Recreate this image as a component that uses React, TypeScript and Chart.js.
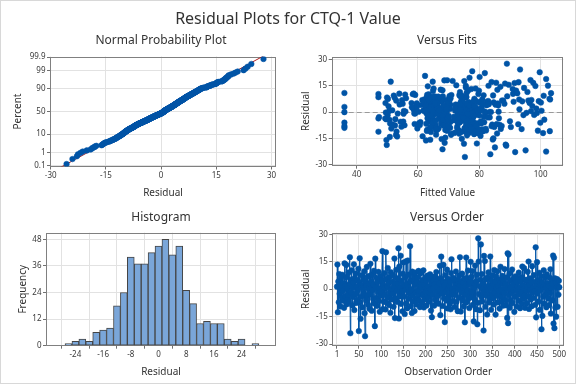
import React, { useEffect, useRef } from "react";
import { Chart, registerables } from "chart.js";
Chart.register(...registerables);

// ---------------- DATA ----------------
// residuals in observation order (1..500)
const residuals: number[] = [
  1.4, 13.5, -12.6, 4.2, -7.1, 8.3, -2.5, 0.6, -9.4, 5.8, 2.1, -4.6, 7.9, -0.8, -6.3, 3.3, -10.2, 14.1, 1.7, -3.9, 6.5, 13.3, -8.2, 0.3, -5.4,
  -3.2, 9.1, -6.7, 2.8, 17.5, -24.1, 5.2, -1.9, 10.4, -8.8, 0.9, -4.3, 3.7, 13.6, -11.4, 6.1, -2.7, 8.6, -7.5, 1.3, -5.9, 4.8, -0.4, 11.2, -22.9,
  3.6, 16.9, -7.2, -16.2, 2.4, -4.1, 7.6, -9.9, 0.7, 5.3, -2.2, 9.8, -13.1, -25.7, 4.5, -6.0, 1.9, 12.2, -3.4, 6.9, -8.5, 0.2, 3.1, -10.7, 7.3,
  13.9, -2.9, 4.4, -11.8, 8.1, -0.6, -5.2, 2.6, 10.1, -7.8, -20.2, 16.7, 1.1, -4.8, 6.3, -9.1, 3.9, -1.5, 9.5, -6.4, 0.4, -12.3, 5.6, -3.6, 7.2,
  -1.2, 4.9, 20.8, -10.9, 2.2, -6.8, 8.9, -3.1, 0.8, -11.1, 20.2, 5.5, -7.4, 1.6, 11.6, -4.4, 3.4, -8.7, 6.7, -2.0, -12.9, 9.3, 0.1, -5.6, 4.1,
  -2.6, 7.7, -9.6, 1.4, 16.8, -15.8, 3.2, -5.1, 10.6, -0.9, 6.0, -7.0, 2.9, 22.4, -16.0, 12.4, -3.8, 0.5, 18.3, -8.0, 4.6, -1.1, -12.1, 8.4, 14.6,
  -4.0, 2.0, -13.6, 6.6, -0.3, 15.2, -7.7, 3.0, -10.4, 15.7, 1.0, -5.3, 8.0, -2.3, 23.5, 4.3, -9.3, 0.0, -13.0, 9.6, -3.5, 5.1, -6.6, 7.0, -11.9,
  2.7, 9.0, -1.8, -8.4, 4.0, -4.9, 6.4, -0.7, 10.0, -6.1, 1.8, -9.8, 3.5, 8.7, -2.8, 0.9, -7.3, 5.0, -3.3, 10.3, -10.0, 2.3, -5.5, 6.2, -1.4,
  4.7, -8.9, 0.6, 7.4, -4.2, 1.5, -6.9, 5.9, -2.1, 8.2, -0.2, -11.7, 3.8, -15.3, 6.8, -3.0, 0.3, 4.5, -9.0, 2.5, -5.7, 7.1, -1.0, 9.4, -7.6,
  1.2, -3.7, 5.4, -7.9, 3.1, -0.5, 12.8, -14.2, 6.0, 17.8, -2.4, 0.7, -9.2, 4.2, 13.3, -5.0, 2.0, -18.0, 7.8, -1.6, 3.6, -6.2, 10.7, -10.5, 0.4,
  5.7, -4.5, 1.9, -8.1, 3.9, -11.0, 8.8, 16.4, -2.9, 0.2, -6.5, 6.3, -1.3, 4.9, -9.7, 2.4, -3.2, 9.7, -7.0, 0.8, 5.1, -12.0, 3.0, -0.1, 7.5,
  -4.7, 17.5, 2.1, -12.2, 4.4, -1.7, 8.5, -6.3, 0.6, 3.3, -9.4, 5.8, -18.1, 1.4, -3.0, 17.3, -7.1, 6.1, -0.8, 10.2, -5.2, 2.8, -10.3, 4.0, -2.2,
  15.0, -4.4, 6.8, -1.2, 9.9, -8.6, 3.7, -17.6, 0.9, -5.8, 12.9, 2.5, -10.9, 4.3, 7.9, -19.2, -7.4, 27.8, 15.1, -2.6, 1.7, -11.5, 5.2, 24.5, -3.9,
  8.3, -6.7, 0.1, 3.2, -22.6, 18.2, -1.4, 15.4, -9.6, 5.5, -3.4, 1.3, -13.8, 6.4, -0.4, 9.2, -7.3, 2.2, -4.6, 17.9, 0.5, -11.2, 4.7, -2.5, 7.6,
  -5.0, 2.6, -8.3, 10.5, -1.9, 4.1, -13.9, 6.9, 0.7, -3.6, 9.8, -7.2, 1.6, -0.9, 5.3, -10.6, 3.4, 12.3, -4.3, 0.0, -6.9, 7.3, 2.9, -9.0, 4.6,
  -1.8, 11.0, -5.9, 3.0, -8.8, 0.3, 6.5, -15.7, 19.7, -18.6, 19.0, -3.1, 8.6, -10.1, 1.1, -6.0, 4.8, -2.0, 10.8, -7.6, 2.7, -0.6, 5.9, -12.4, 3.5,
  -4.1, 7.0, -0.2, 3.8, -9.5, 1.5, 5.6, -6.4, 9.1, -2.7, 0.9, -10.4, 4.4, -1.5, 6.7, -8.0, 12.4, 2.0, -5.3, 0.2, 11.5, -3.5, -10.2, 4.9, -0.7,
  5.2, -7.7, 1.0, 9.5, -3.8, 15.1, -10.8, 2.4, -0.3, 6.0, -5.6, 3.6, -9.3, 12.6, -1.9, 0.6, -4.8, 7.7, -1.0, 3.9, -8.5, 22.9, -15.4, 1.8, 14.8,
  -2.3, 5.0, -6.8, 0.4, 9.0, -11.3, 3.1, -0.5, 7.2, -21.9, 4.0, -14.6, 1.2, -4.0, 10.4, -7.9, 2.1, 6.6, -3.3, 0.8, -9.9, 8.1, -1.7, 3.4, -5.1,
  1.9, -8.7, 6.4, -2.1, 10.9, -13.3, 0.6, 4.3, -6.1, 2.8, 18.4, -18.8, 17.2, -21.3, 6.0, -10.0, 3.7, -15.0, 0.9, 5.5, -9.6, 1.5, -3.0, 4.6, 1.1,
];

// fitted values, same order as residuals
const fitted: number[] = [
  72.4, 65.1, 78.3, 70.6, 84.2, 63.8, 74.9, 50.6, 51.3, 76.5, 98.6, 71.8, 64.5, 53.4, 80.7, 59.4, 68.9, 75.6, 93.1, 70.1, 62.9, 77.4, 72.8, 86.3, 55.2,
  74.3, 68.1, 79.5, 63.2, 51.1, 83.6, 49.4, 76.9, 47.1, 66.0, 72.1, 101.2, 69.7, 78.8, 64.2, 74.0, 81.5, 47.1, 55.6, 58.7, 73.6, 88.2, 67.3, 75.9, 91.7,
  69.8, 85.5, 77.1, 62.6, 73.9, 49.6, 50.2, 79.9, 65.6, 96.4, 74.7, 70.9, 52.8, 75.3, 83.1, 36.0, 68.4, 64.9, 76.3, 54.8, 90.3, 60.2, 78.1, 69.5, 103.1,
  94.6, 73.1, 65.3, 76.8, 70.2, 81.9, 63.4, 74.4, 55.8, 78.6, 85.1, 91.5, 51.6, 67.8, 99.4, 75.2, 64.1, 72.9, 52.1, 79.2, 68.5, 73.4, 84.7, 49.3, 62.1,
  76.1, 69.9, 62.3, 81.2, 73.5, 58.9, 66.6, 74.8, 100.3, 53.0, 80.1, 64.7, 77.6, 68.2, 95.7, 50.7, 50.4, 79.0, 87.4, 75.4, 65.9, 70.3, 83.8, 73.0, 61.0,
  71.7, 78.4, 66.3, 74.1, 97.6, 64.0, 76.0, 69.0, 53.9, 55.3, 82.6, 75.7, 63.6, 81.8, 49.7, 92.0, 77.3, 68.0, 69.5, 36.0, 73.8, 65.4, 79.6, 49.9, 86.9,
  74.6, 67.0, 80.4, 52.9, 64.4, 102.4, 76.7, 69.6, 73.3, 89.6, 61.8, 78.0, 56.1, 66.9, 77.7, 75.0, 59.8, 36.0, 70.8, 84.5, 63.1, 74.2, 67.5, 97.0, 71.9,
  78.9, 65.7, 50.1, 54.6, 76.4, 69.3, 82.9, 73.7, 63.0, 99.9, 70.5, 80.9, 66.4, 75.8, 47.3, 72.7, 68.6, 86.0, 74.5, 58.3, 79.7, 65.0, 54.3, 94.0, 77.0,
  70.0, 75.5, 64.6, 81.0, 68.8, 73.0, 92.7, 66.1, 77.9, 52.4, 49.5, 79.3, 63.7, 74.3, 67.2, 83.4, 69.4, 76.2, 36.0, 72.4, 60.8, 78.5, 65.2, 101.0, 52.5,
  73.1, 64.3, 80.2, 69.1, 76.6, 62.7, 85.9, 50.8, 67.7, 75.1, 78.2, 55.4, 72.8, 66.2, 90.9, 74.2, 63.3, 79.2, 70.6, 97.9, 68.3, 76.0, 58.6, 82.2, 55.9,
  65.8, 77.5, 58.5, 84.0, 69.7, 74.6, 63.9, 88.4, 73.2, 79.8, 50.9, 70.2, 67.1, 76.9, 93.8, 72.6, 64.8, 81.4, 68.7, 75.3, 59.6, 100.8, 59.6, 78.7, 66.5,
  74.8, 64.8, 69.8, 85.8, 72.3, 77.0, 62.8, 60.4, 96.9, 75.9, 66.7, 80.6, 75.0, 68.1, 73.6, 84.0, 51.7, 78.1, 58.8, 63.5, 90.0, 76.3, 69.3, 82.4, 72.9,
  98.3, 73.4, 65.0, 79.4, 59.1, 76.8, 62.4, 68.7, 74.7, 81.6, 67.4, 72.2, 103.0, 77.2, 64.2, 88.8, 60.6, 89.0, 75.6, 69.0, 80.0, 73.9, 57.9, 93.3, 66.8,
  75.2, 62.7, 83.3, 63.6, 101.8, 68.6, 77.8, 72.5, 87.0, 66.3, 74.0, 79.1, 61.5, 63.4, 95.4, 73.7, 65.5, 78.6, 69.9, 71.3, 76.5, 47.1, 82.7, 67.6, 74.4,
  72.7, 80.8, 64.7, 91.0, 64.3, 76.2, 53.2, 69.0, 78.3, 47.1, 73.5, 86.6, 66.0, 75.0, 62.0, 99.1, 62.5, 79.9, 68.3, 74.1, 65.6, 93.0, 77.4, 70.5, 81.1,
  67.9, 36.0, 73.0, 36.0, 64.0, 78.8, 63.8, 84.4, 76.8, 88.6, 101.8, 69.6, 75.7, 63.0, 80.3, 65.2, 55.0, 77.1, 92.4, 68.2, 74.9, 66.6, 79.5, 70.8, 97.3,
  73.3, 61.4, 77.8, 69.4, 82.1, 75.1, 65.3, 64.6, 89.1, 74.5, 67.0, 78.0, 54.0, 63.1, 96.0, 70.0, 76.4, 63.8, 80.5, 68.5, 73.7, 86.4, 66.2, 75.8, 59.1,
  65.5, 79.0, 64.9, 74.3, 69.7, 83.0, 62.9, 66.8, 77.5, 91.2, 70.6, 62.5, 75.4, 68.0, 80.0, 73.1, 65.7, 102.9, 76.1, 86.2, 84.9, 99.7, 67.7, 74.0, 63.2,
  78.2, 69.5, 85.7, 81.8, 65.1, 75.6, 64.2, 98.8, 63.5, 95.1, 76.7, 68.9, 73.8, 52.6, 79.7, 87.3, 66.4, 87.8, 74.8, 61.9, 77.3, 70.5, 94.4, 68.4, 75.9,
  63.7, 64.1, 80.9, 70.0, 103.4, 76.0, 67.3, 85.3, 73.4, 58.0, 96.7, 49.8, 92.8, 68.0, 74.6, 65.8, 78.4, 84.6, 62.6, 100.1, 75.5, 69.2, 82.8, 73.6, 66.9,
];

// histogram: bin centres (width 2) and frequencies
const histBins: number[] = [-26, -24, -22, -20, -18, -16, -14, -12, -10, -8, -6, -4, -2, 0, 2, 4, 6, 8, 10, 12, 14, 16, 18, 20, 22, 24, 26, 28];
const histCounts: number[] = [1, 2, 3, 2, 6, 7, 8, 18, 24, 40, 37, 37, 42, 45, 48, 41, 45, 25, 19, 10, 11, 10, 10, 3, 2, 3, 0, 1];

// tick values / labels
const probPercents: number[] = [0.1, 1, 10, 50, 90, 99, 99.9];
const probXTicks: number[] = [-30, -15, 0, 15, 30];
const residTicks: number[] = [-30, -15, 0, 15, 30];
const fitXTicks: number[] = [40, 60, 80, 100];
const histXTicks: number[] = [-24, -16, -8, 0, 8, 16, 24];
const histYTicks: number[] = [0, 12, 24, 36, 48];
const orderXTicks: number[] = [1, 50, 100, 150, 200, 250, 300, 350, 400, 450, 500];

// ---------------- STYLE ----------------
const FONT = "'Noto Sans', 'Open Sans', 'DejaVu Sans', sans-serif";
const BLUE = "#0054a6";
const BAR = "#7aa6d9";
const RED = "#b01e1e";
const GRID = "#e2e2e2";
const TICK = "#707070";
const BOX = "#808080";
const PR = 2.8;

function invNorm(p: number): number {
  const a = [-3.969683028665376e1, 2.209460984245205e2, -2.759285104469687e2, 1.38357751867269e2, -3.066479806614716e1, 2.506628277459239];
  const b = [-5.447609879822406e1, 1.615858368580409e2, -1.556989798598866e2, 6.680131188771972e1, -1.328068155288572e1];
  const c = [-7.784894002430293e-3, -3.223964580411365e-1, -2.400758277161838, -2.549732539343734, 4.374664141464968, 2.938163982698783];
  const d = [7.784695709041462e-3, 3.224671290700398e-1, 2.445134137142996, 3.754408661907416];
  const pl = 0.02425;
  let q: number, r: number;
  if (p < pl) {
    q = Math.sqrt(-2 * Math.log(p));
    return (((((c[0] * q + c[1]) * q + c[2]) * q + c[3]) * q + c[4]) * q + c[5]) / ((((d[0] * q + d[1]) * q + d[2]) * q + d[3]) * q + 1);
  }
  if (p <= 1 - pl) {
    q = p - 0.5;
    r = q * q;
    return ((((((a[0] * r + a[1]) * r + a[2]) * r + a[3]) * r + a[4]) * r + a[5]) * q) / (((((b[0] * r + b[1]) * r + b[2]) * r + b[3]) * r + b[4]) * r + 1);
  }
  q = Math.sqrt(-2 * Math.log(1 - p));
  return -(((((c[0] * q + c[1]) * q + c[2]) * q + c[3]) * q + c[4]) * q + c[5]) / ((((d[0] * q + d[1]) * q + d[2]) * q + d[3]) * q + 1);
}

function axis(o: { min: number; max: number; ticks: number[]; labels?: string[]; title: string; size: number; horizontal: boolean }) {
  return {
    type: "linear",
    min: o.min,
    max: o.max,
    afterBuildTicks: (s: any) => {
      s.ticks = o.ticks.map((v) => ({ value: v }));
    },
    afterFit: (s: any) => {
      if (o.horizontal) s.height = o.size;
      else s.width = o.size;
    },
    grid: { color: GRID, lineWidth: 1, tickLength: 3, tickColor: TICK, drawTicks: true },
    border: { display: false },
    ticks: {
      font: { family: FONT, size: 8 },
      color: "#3a3a3a",
      padding: 1.5,
      maxRotation: 0,
      autoSkip: false,
      callback: (_v: any, i: number) => (o.labels ? o.labels[i] : String(o.ticks[i])),
    },
    title: { display: true, text: o.title, font: { family: FONT, size: 10 }, color: "#333", padding: 0 },
  };
}

const boxPlugin = {
  id: "box",
  beforeDatasetsDraw(chart: any) {
    const { ctx, chartArea } = chart;
    ctx.save();
    ctx.strokeStyle = BOX;
    ctx.lineWidth = 1;
    ctx.strokeRect(
      Math.round(chartArea.left) + 0.5,
      Math.round(chartArea.top) + 0.5,
      Math.round(chartArea.right) - Math.round(chartArea.left) - 1,
      Math.round(chartArea.bottom) - Math.round(chartArea.top) - 1
    );
    ctx.restore();
  },
};

const zeroLinePlugin = {
  id: "zeroLine",
  beforeDatasetsDraw(chart: any) {
    const { ctx, chartArea, scales } = chart;
    const y = Math.round(scales.y.getPixelForValue(0)) + 0.5;
    ctx.save();
    ctx.strokeStyle = "#9a9a9a";
    ctx.lineWidth = 1.2;
    ctx.setLineDash([5, 3]);
    ctx.beginPath();
    ctx.moveTo(chartArea.left + 1, y);
    ctx.lineTo(chartArea.right - 1, y);
    ctx.stroke();
    ctx.restore();
  },
};

const common = {
  responsive: false,
  animation: false as const,
  devicePixelRatio: 1,
  events: [] as any[],
  plugins: { legend: { display: false }, tooltip: { enabled: false } },
};

function probConfig(): any {
  const sorted = [...residuals].sort((a, b) => a - b);
  const n = sorted.length;
  const pts = sorted.map((r, i) => ({ x: r, y: invNorm((i + 1 - 0.3) / (n + 0.4)) }));
  const mean = residuals.reduce((s, v) => s + v, 0) / n;
  const sd = Math.sqrt(residuals.reduce((s, v) => s + (v - mean) * (v - mean), 0) / (n - 1));
  const line = [-3.4, 3.4].map((z) => ({ x: mean + sd * z, y: z }));
  return {
    type: "scatter",
    data: {
      datasets: [
        { data: pts, backgroundColor: BLUE, borderColor: BLUE, pointRadius: PR, pointBorderWidth: 0.5, order: 1 },
        { data: line, showLine: true, borderColor: RED, borderWidth: 1, pointRadius: 0, order: 2 },
      ],
    },
    options: {
      ...common,
      layout: { padding: { left: 12.5, right: 300, top: 56.5, bottom: 185.3 } },
      scales: {
        x: axis({ min: -30.2, max: 31.2, ticks: probXTicks, title: "Residual", size: 32.2, horizontal: true }),
        y: axis({
          min: -3.13,
          max: 3.13,
          ticks: probPercents.map((p) => invNorm(p / 100)),
          labels: probPercents.map((p) => String(p)),
          title: "Percent",
          size: 37.5,
          horizontal: false,
        }),
      },
    },
    plugins: [boxPlugin],
  };
}

function fitsConfig(): any {
  const pts = residuals.map((r, i) => ({ x: fitted[i], y: r }));
  return {
    type: "scatter",
    data: { datasets: [{ data: pts, backgroundColor: BLUE, borderColor: BLUE, pointRadius: PR, pointBorderWidth: 0.5 }] },
    options: {
      ...common,
      layout: { padding: { left: 300.3, right: 12.7, top: 56.7, bottom: 185.3 } },
      scales: {
        x: axis({ min: 31.85, max: 107.4, ticks: fitXTicks, title: "Fitted Value", size: 33, horizontal: true }),
        y: axis({ min: -30.7, max: 31.8, ticks: residTicks, title: "Residual", size: 31.4, horizontal: false }),
      },
    },
    plugins: [boxPlugin, zeroLinePlugin],
  };
}

function histConfig(): any {
  return {
    type: "bar",
    data: {
      datasets: [
        {
          data: histBins.map((b, i) => ({ x: b, y: histCounts[i] })),
          backgroundColor: BAR,
          borderColor: "#454545",
          borderWidth: 1,
          borderSkipped: false,
          barPercentage: 1,
          categoryPercentage: 1,
        },
      ],
    },
    options: {
      ...common,
      layout: { padding: { left: 17.3, right: 300, top: 232.7, bottom: 6.3 } },
      scales: {
        x: axis({ min: -27.75, max: 29.2, ticks: histXTicks, title: "Residual", size: 32, horizontal: true }),
        y: axis({ min: 0, max: 51, ticks: histYTicks, title: "Frequency", size: 28.7, horizontal: false }),
      },
    },
    plugins: [boxPlugin],
  };
}

function orderConfig(): any {
  return {
    type: "line",
    data: {
      datasets: [
        {
          data: residuals.map((r, i) => ({ x: i + 1, y: r })),
          borderColor: BLUE,
          backgroundColor: BLUE,
          borderWidth: 1,
          pointRadius: PR,
          pointBorderWidth: 0.5,
          tension: 0,
        },
      ],
    },
    options: {
      ...common,
      layout: { padding: { left: 300.3, right: 12, top: 232.7, bottom: 6.3 } },
      scales: {
        x: axis({ min: -9.5, max: 510.5, ticks: orderXTicks, title: "Observation Order", size: 32, horizontal: true }),
        y: axis({ min: -30.9, max: 30.9, ticks: residTicks, title: "Residual", size: 32, horizontal: false }),
      },
    },
    plugins: [boxPlugin],
  };
}

function ChartCanvas({ build }: { build: () => any }) {
  const ref = useRef<HTMLCanvasElement | null>(null);
  useEffect(() => {
    if (!ref.current) return;
    const chart = new Chart(ref.current, build());
    return () => chart.destroy();
  }, [build]);
  return <canvas ref={ref} width={576} height={384} style={{ position: "absolute", left: 0, top: 0 }} />;
}

function Title({ text, cx, top, size }: { text: string; cx: number; top: number; size: number }) {
  return (
    <div
      style={{
        position: "absolute",
        left: cx - 150,
        width: 300,
        top,
        textAlign: "center",
        fontFamily: FONT,
        fontSize: size,
        lineHeight: `${Math.round(size * 1.2)}px`,
        color: "#333",
        whiteSpace: "nowrap",
      }}
    >
      {text}
    </div>
  );
}

export default function App() {
  return (
    <div style={{ position: "fixed", left: 0, top: 0, width: 576, height: 384, background: "#fff", overflow: "hidden" }}>
      <ChartCanvas build={probConfig} />
      <ChartCanvas build={fitsConfig} />
      <ChartCanvas build={histConfig} />
      <ChartCanvas build={orderConfig} />
      <Title text="Residual Plots for CTQ-1 Value" cx={288} top={9} size={16} />
      <Title text="Normal Probability Plot" cx={161} top={33} size={12} />
      <Title text="Versus Fits" cx={447} top={33} size={12} />
      <Title text="Histogram" cx={161} top={209.5} size={12} />
      <Title text="Versus Order" cx={447} top={209.5} size={12} />
      <div style={{ position: "absolute", left: 0, top: 0, width: 576, height: 384, boxSizing: "border-box", border: "1px solid #d8d8d8", pointerEvents: "none" }} />
    </div>
  );
}
